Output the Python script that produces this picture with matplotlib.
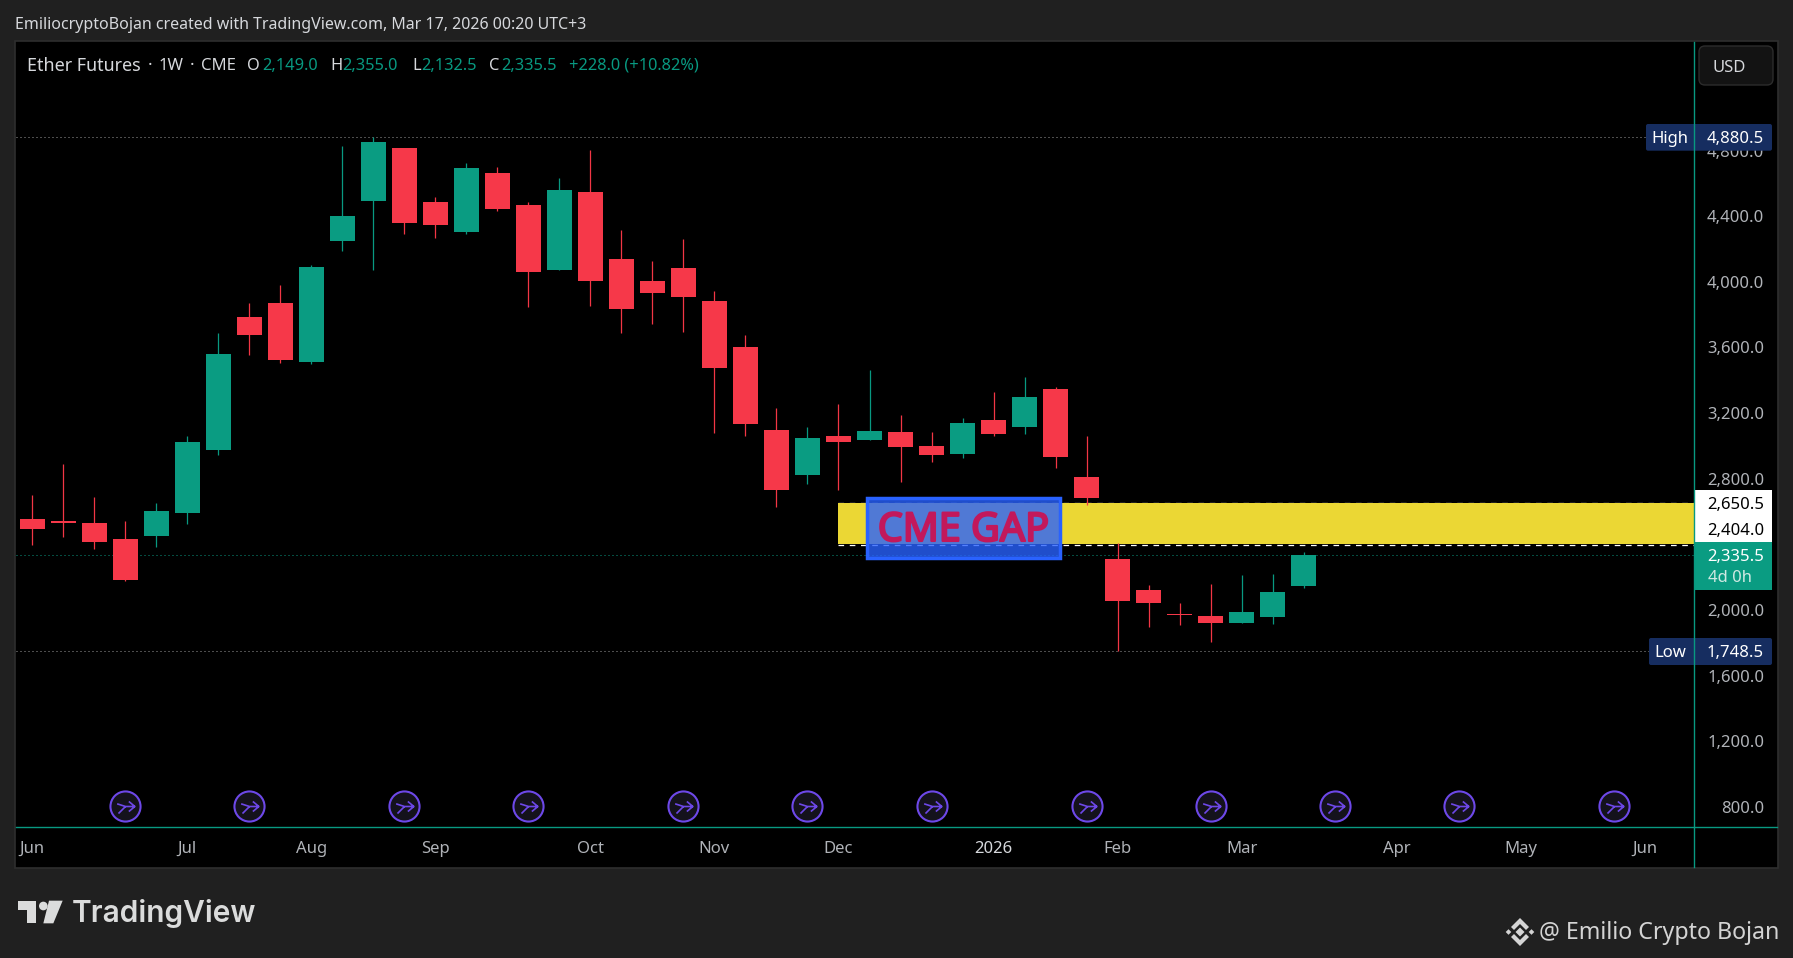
import matplotlib
matplotlib.use("Agg")
import matplotlib.pyplot as plt
import matplotlib.patheffects as pe
from matplotlib.patches import Rectangle, FancyBboxPatch, Polygon, Circle
from matplotlib.path import Path
from matplotlib.colors import to_rgba

plt.rcParams['font.family'] = ['Noto Sans', 'DejaVu Sans']

# ---------- data (USD, weekly candles) ----------
opens = [2555, 2542.5, 2530, 2433, 2451, 2591, 2975, 3785.5, 3871, 3511.5, 4249, 4492.5, 4815.5, 4486.5,
         4303.5, 4663, 4468, 4072, 4547.5, 4139, 4005, 4084.5, 3883, 3603, 3097, 2823, 3060.5, 3036, 3085,
         2999.5, 2951, 3158, 3115.5, 3347, 2810.5, 2311, 2122, 1976, 1963.5, 1921, 1957.5, 2149]
closes = [2494, 2530, 2414.5, 2183, 2603.5, 3024, 3560, 3676, 3523.5, 4090.5, 4401, 4852, 4358.5, 4346,
          4693.5, 4444, 4060, 4559.5, 4005, 3834.5, 3932, 3907.5, 3475, 3133.5, 2731.5, 3048.5, 3024, 3091,
          2993.5, 2945, 3140, 3072.5, 3298, 2932.5, 2682.5, 2055, 2043, 1969.5, 1921, 1988, 2110, 2335.5]
highs = [2701, 2890, 2689, 2542.5, 2652, 3060.5, 3688, 3871, 3980.5, 4102.5, 4828, 4880.5, 4815.5, 4517,
         4724, 4700, 4486.5, 4633, 4803.5, 4316, 4127, 4261, 3944, 3676, 3231, 3115.5, 3255.5, 3462.5,
         3188.5, 3085, 3170, 3328.5, 3420, 3359, 3060.5, 2408.5, 2152.5, 2043, 2158.5, 2213.5, 2219.5, 2355]
lows = [2396, 2445, 2372, 2177, 2384, 2524, 2945, 3554, 3505, 3499, 4188, 4072, 4291.5, 4267,
        4291.5, 4431.5, 3846.5, 4072, 3852.5, 3688, 3743, 3694.5, 3079, 3060.5, 2628, 2768, 2731.5, 3036,
        2780, 2902, 2926.5, 3060.5, 3072.5, 2865.5, 2640, 1748.5, 1896.5, 1908.5, 1805, 1921, 1915, 2132.5]

month_pos = [0, 5, 9, 13, 18, 22, 26, 31, 35, 39, 44, 48, 52]
month_labels = ['Jun', 'Jul', 'Aug', 'Sep', 'Oct', 'Nov', 'Dec', '2026', 'Feb', 'Mar', 'Apr', 'May', 'Jun']
price_ticks = [800, 1200, 1600, 2000, 2800, 3200, 3600, 4000, 4400, 4800]
event_pos = [3, 7, 12, 16, 21, 25, 29, 34, 38, 42, 46, 51]

HIGH, LOW, LAST = 4880.5, 1748.5, 2335.5
GAP_TOP, GAP_BOTTOM = 2650.5, 2404.0
GAP_START = 26
LABEL_BOX = (26.92, 33.14, 2315, 2685)   # x0, x1, y0, y1 in chart units
EVENT_PRICE = 806

# ---------- colours ----------
PAGE = '#202020'
BORDER = '#2e2e2e'
TEAL = '#089981'
RED = '#f23645'
BODY_RED = '#f63849'
BODY_GREEN = '#0a9c82'
BLUE = '#2962ff'
YELLOW = '#ebd734'
PURPLE = '#6d48e8'
GREY = '#b0b3b8'
SOFT = '#d6d8dc'
NAVY = '#162d60'
GAP_TEXT = '#c2185b'

W, H = 1793, 958
fig = plt.figure(figsize=(W / 100, H / 100), dpi=100, facecolor=PAGE)


def box(l, t, r, b):
    return [l / W, 1 - b / H, (r - l) / W, (b - t) / H]


back = fig.add_axes([0, 0, 1, 1], zorder=0)
back.set_xlim(0, W); back.set_ylim(H, 0); back.axis('off')
back.add_patch(Rectangle((15, 41), 1763, 827, fc='black', ec=BORDER, lw=1.2))

# ---------- chart ----------
ax = fig.add_axes(box(16, 41.7, 1694.3, 826.7), zorder=1, facecolor='black')
ax.patch.set_alpha(0)
ax.set_xlim(-0.526, 53.6)
ax.set_ylim(679.6, 5463.4)
for s in ax.spines.values():
    s.set_visible(False)

ax.plot(ax.get_xlim(), [HIGH, HIGH], color='#9a9a9a', lw=0.72, ls=(0, (1, 3)), zorder=1)
ax.plot(ax.get_xlim(), [LOW, LOW], color='#9a9a9a', lw=0.72, ls=(0, (1, 3)), zorder=1)
ax.plot(ax.get_xlim(), [LAST, LAST], color=TEAL, lw=0.72, ls=(0, (1, 3)), zorder=1)

xr = ax.get_xlim()[1]
ax.add_patch(Rectangle((GAP_START, GAP_BOTTOM), xr - GAP_START, GAP_TOP - GAP_BOTTOM, fc=YELLOW, ec='none', zorder=2))

xs = list(range(len(opens)))
wick_cols = [RED if c < o else TEAL for o, c in zip(opens, closes)]
body_cols = [BODY_RED if c < o else BODY_GREEN for o, c in zip(opens, closes)]
ax.vlines(xs, lows, highs, colors=wick_cols, lw=0.9, zorder=3)
ax.bar(xs, [abs(c - o) for o, c in zip(opens, closes)], bottom=[min(o, c) for o, c in zip(opens, closes)],
       width=25 / 31, color=body_cols, lw=0, zorder=4)

ax.plot([GAP_START, xr], [GAP_TOP, GAP_TOP], color='white', lw=0.9, ls=(0, (4.5, 4.5)), zorder=1.5)
ax.plot([GAP_START, xr], [GAP_BOTTOM - 6, GAP_BOTTOM - 6], color='white', lw=0.9, ls=(0, (4.5, 4.5)), zorder=5)

x0, x1, y0, y1 = LABEL_BOX
ax.add_patch(Rectangle((x0, y0), x1 - x0, y1 - y0, fc=to_rgba(BLUE, 0.8), ec=BLUE, lw=2.5, zorder=6))
ax.text((x0 + x1) / 2, y0 + 0.5 * (y1 - y0) - 18, 'CME GAP', color=GAP_TEXT, fontsize=28.5,
        ha='center', va='center', zorder=7,
        path_effects=[pe.withStroke(linewidth=1.6, foreground=GAP_TEXT)])

# event icons
ax.scatter(event_pos, [EVENT_PRICE] * len(event_pos), s=470, fc='#14121c', ec=PURPLE, lw=1.5, zorder=6)
arrow = Path([(-0.5, 0.16), (0.0, 0.0), (0.56, 0.0), (0.2, 0.3), (0.56, 0.0), (0.2, -0.3), (0.0, 0.0), (-0.42, -0.42)],
             [Path.MOVETO, Path.LINETO, Path.LINETO, Path.MOVETO, Path.LINETO, Path.LINETO, Path.MOVETO, Path.LINETO])
ax.plot(event_pos, [EVENT_PRICE] * len(event_pos), ls='', marker=arrow, ms=13.5, mfc='none', mec=PURPLE, mew=1.2, zorder=7)

# axes scales
ax.yaxis.tick_right()
ax.set_yticks(price_ticks)
ax.set_yticklabels([f'{p:,.1f}' for p in price_ticks])
ax.tick_params(axis='y', length=0, pad=50.4, labelsize=12, labelcolor=GREY)
for t in ax.get_yticklabels():
    t.set_ha('right')
ax.set_xticks(month_pos)
ax.set_xticklabels(month_labels)
ax.tick_params(axis='x', length=0, pad=10.3, labelsize=12, labelcolor=GREY)
ax.get_xticklabels()[7].set_fontweight('bold')
ax.get_xticklabels()[7].set_color(SOFT)

# ---------- overlay in pixel space ----------
ov = fig.add_axes([0, 0, 1, 1], zorder=2)
ov.set_xlim(0, W); ov.set_ylim(H, 0); ov.axis('off'); ov.patch.set_alpha(0)


def badge(l, t, r, b, col):
    ov.add_patch(FancyBboxPatch((l + 2, t + 2), r - l - 4, b - t - 4, boxstyle='round,pad=2,rounding_size=2',
                                fc=col, ec='none', zorder=1, mutation_aspect=1))


badge(1646, 124, 1772, 150.7, NAVY)
badge(1649, 638, 1772, 665, NAVY)
ov.add_patch(Rectangle((1694.5, 490), 77.5, 52, fc='white', ec='none', zorder=1))
ov.add_patch(Rectangle((1694.5, 541.7), 77.5, 48.3, fc=BODY_GREEN, ec='none', zorder=1))
ov.add_patch(FancyBboxPatch((1703, 50), 66, 31, boxstyle='round,pad=4,rounding_size=6', fc='#131313', ec='#2c2c2c', lw=1, zorder=1))

ov.plot([1694.3, 1694.3], [41.7, 867], color=TEAL, lw=1, zorder=2)
ov.plot([16, 1777], [826.7, 826.7], color=TEAL, lw=1, zorder=2)


def label(x, y, s, c='white', fs=12, ha='left', **kw):
    ov.text(x, y + 1.8, s, color=c, fontsize=fs, ha=ha, va='center', zorder=3, **kw)


label(1651, 137.3, 'High')
label(1764, 137.3, f'{HIGH:,.1f}', ha='right')
label(1654, 651.5, 'Low')
label(1764, 651.5, f'{LOW:,.1f}', ha='right')
label(1764, 502.7, f'{GAP_TOP:,.1f}', c='black', ha='right')
label(1764, 529, f'{GAP_BOTTOM:,.1f}', c='black', ha='right')
label(1764, 555, f'{LAST:,.1f}', ha='right')
label(1708, 576, '4d 0h', c='#cfe9e3')
label(1713, 65.7, 'USD', c=SOFT)

label(15, 23, 'EmiliocryptoBojan created with TradingView.com, Mar 17, 2026 00:20 UTC+3', c=SOFT, fs=11.5)
label(27, 64, 'Ether Futures', c=SOFT, fs=12.9)
for x, s in [(148, '·'), (159, '1W'), (190, '·'), (201, 'CME')]:
    label(x, 64, s, c=SOFT, fs=12)
for x, s, c in [(247.5, 'O', SOFT), (262, '2,149.0', TEAL), (330.6, 'H', SOFT), (342, '2,355.0', TEAL),
                (412, 'L', SOFT), (421, '2,132.5', TEAL), (489, 'C', SOFT), (501, '2,335.5', TEAL),
                (569, '+228.0 (+10.82%)', TEAL)]:
    label(x, 64, s, c=c, fs=11.8)

# TradingView logo


def zl(pts):
    return [(x / 3, 780 + y / 3) for x, y in pts]


LOGO = '#dbdcdc'
ov.add_patch(Polygon(zl([(53, 362), (107, 362), (107, 430), (80, 430), (80, 390), (53, 390)]), fc=LOGO, ec='none'))
ov.add_patch(Circle((130 / 3, 780 + 378 / 3), 13 / 3, fc=LOGO, ec='none'))
ov.add_patch(Polygon(zl([(147, 362), (188, 362), (160, 430), (130, 430)]), fc=LOGO, ec='none'))
label(72, 912, 'TradingView', c=LOGO, fs=21.5, fontweight='semibold', family=['Inter', 'Noto Sans'])

# Binance style mark and signature
cx, cy = 1520, 932
LOGO2 = '#d4d4d4'
for dx, dy, r in [(0, 0, 4.5), (-11.5, 0, 2.8), (11.5, 0, 2.8)]:
    ov.add_patch(Polygon([(cx + dx, cy + dy - r), (cx + dx + r, cy + dy), (cx + dx, cy + dy + r), (cx + dx - r, cy + dy)], fc=LOGO2, ec='none'))
for sgn in (-1, 1):
    ov.add_patch(Polygon([(cx, cy + sgn * 14), (cx + 9, cy + sgn * 5), (cx + 6, cy + sgn * 2), (cx, cy + sgn * 8),
                          (cx - 6, cy + sgn * 2), (cx - 9, cy + sgn * 5)], fc=LOGO2, ec='none'))
label(1539, 931, '@ Emilio Crypto Bojan', c=LOGO2, fs=16.7)

fig.savefig('out.png', dpi=100, facecolor=PAGE)
